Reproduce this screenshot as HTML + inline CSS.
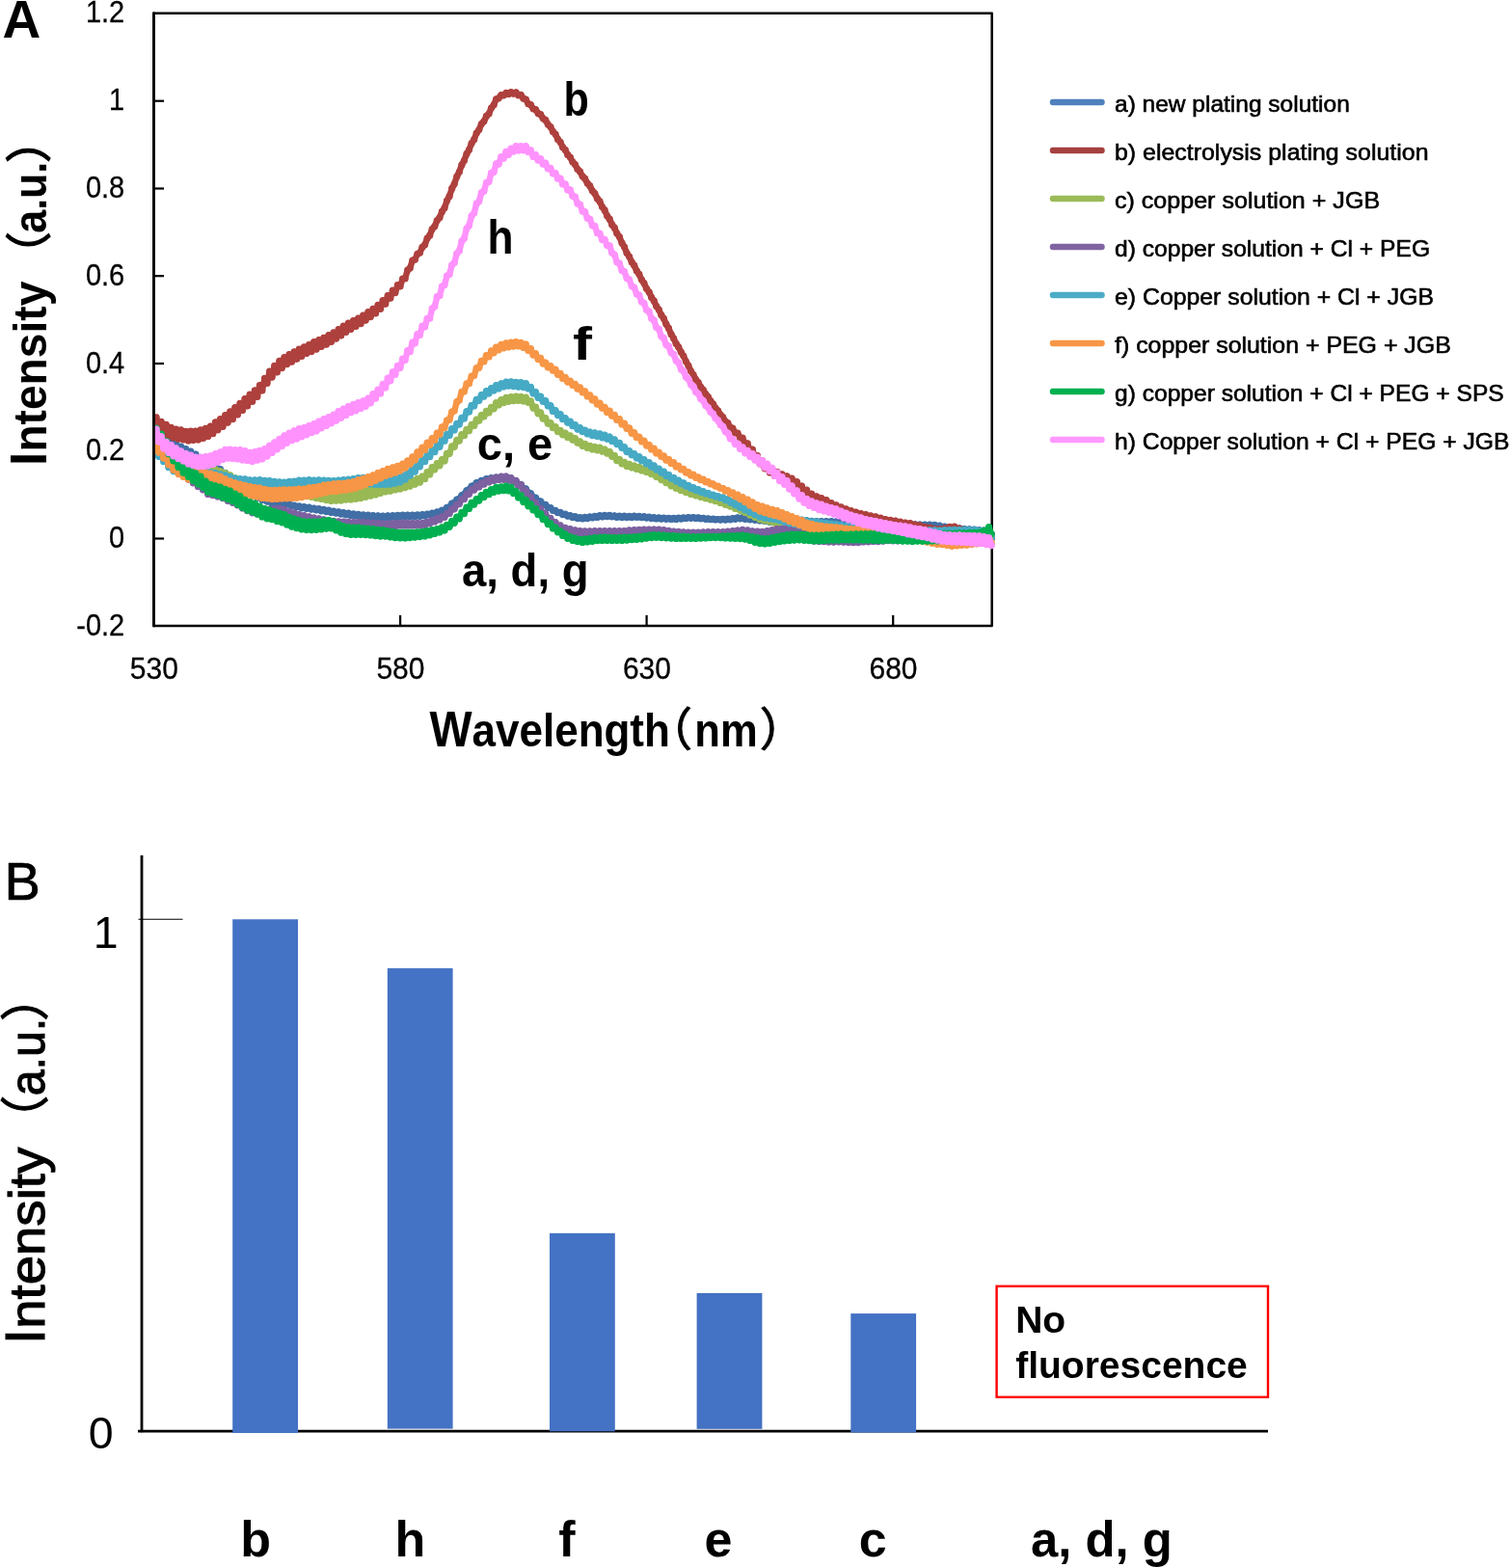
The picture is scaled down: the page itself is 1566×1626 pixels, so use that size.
<!DOCTYPE html>
<html lang="en"><head><meta charset="utf-8"><title>Fluorescence spectra</title>
<style>
html,body{margin:0;padding:0;background:#fff;}
body{width:1566px;height:1626px;overflow:hidden;}
svg{display:block;}
text{font-family:"Liberation Sans",sans-serif;fill:#000;}
.b{font-weight:bold;}
.jp{font-family:"Liberation Sans","Noto Sans CJK JP","IPAGothic","WenQuanYi Zen Hei",sans-serif;}
</style></head>
<body>
<svg width="1566" height="1626" viewBox="0 0 1566 1626">
<rect x="0" y="0" width="1566" height="1626" fill="#fff"/>
<!-- Panel A: plot frame -->
<rect x="159.5" y="13.7" width="869.2" height="635.3" fill="none" stroke="#000" stroke-width="2.5" stroke-linejoin="round"/>
<line x1="159.5" y1="104.7" x2="170.0" y2="104.7" stroke="#000" stroke-width="2.2"/>
<line x1="159.5" y1="195.5" x2="170.0" y2="195.5" stroke="#000" stroke-width="2.2"/>
<line x1="159.5" y1="286.2" x2="170.0" y2="286.2" stroke="#000" stroke-width="2.2"/>
<line x1="159.5" y1="377.0" x2="170.0" y2="377.0" stroke="#000" stroke-width="2.2"/>
<line x1="159.5" y1="467.7" x2="170.0" y2="467.7" stroke="#000" stroke-width="2.2"/>
<line x1="159.5" y1="558.5" x2="170.0" y2="558.5" stroke="#000" stroke-width="2.2"/>
<text x="88.9" y="23.4" font-size="32" stroke="#000" stroke-width="0.3" textLength="40.3" lengthAdjust="spacingAndGlyphs">1.2</text>
<text x="113.1" y="114.2" font-size="32" stroke="#000" stroke-width="0.3" textLength="16.1" lengthAdjust="spacingAndGlyphs">1</text>
<text x="88.9" y="205.0" font-size="32" stroke="#000" stroke-width="0.3" textLength="40.3" lengthAdjust="spacingAndGlyphs">0.8</text>
<text x="88.9" y="295.7" font-size="32" stroke="#000" stroke-width="0.3" textLength="40.3" lengthAdjust="spacingAndGlyphs">0.6</text>
<text x="88.9" y="386.5" font-size="32" stroke="#000" stroke-width="0.3" textLength="40.3" lengthAdjust="spacingAndGlyphs">0.4</text>
<text x="88.9" y="477.2" font-size="32" stroke="#000" stroke-width="0.3" textLength="40.3" lengthAdjust="spacingAndGlyphs">0.2</text>
<text x="113.1" y="568.0" font-size="32" stroke="#000" stroke-width="0.3" textLength="16.1" lengthAdjust="spacingAndGlyphs">0</text>
<text x="79.3" y="658.8" font-size="32" stroke="#000" stroke-width="0.3" textLength="49.9" lengthAdjust="spacingAndGlyphs">-0.2</text>
<line x1="415.1" y1="649.0" x2="415.1" y2="638.0" stroke="#000" stroke-width="2.2"/>
<line x1="670.6" y1="649.0" x2="670.6" y2="638.0" stroke="#000" stroke-width="2.2"/>
<line x1="926.2" y1="649.0" x2="926.2" y2="638.0" stroke="#000" stroke-width="2.2"/>
<text x="134.8" y="703.5" font-size="32" stroke="#000" stroke-width="0.3" textLength="50" lengthAdjust="spacingAndGlyphs">530</text>
<text x="390.4" y="703.5" font-size="32" stroke="#000" stroke-width="0.3" textLength="50" lengthAdjust="spacingAndGlyphs">580</text>
<text x="645.9" y="703.5" font-size="32" stroke="#000" stroke-width="0.3" textLength="50" lengthAdjust="spacingAndGlyphs">630</text>
<text x="901.5" y="703.5" font-size="32" stroke="#000" stroke-width="0.3" textLength="50" lengthAdjust="spacingAndGlyphs">680</text>
<!-- Panel A: spectra -->
<clipPath id="pc"><rect x="160.6" y="0" width="900" height="700"/></clipPath>
<defs>
<marker id="ma" markerUnits="userSpaceOnUse" markerWidth="10" markerHeight="10" refX="5" refY="5"><circle cx="5" cy="5" r="3.6" fill="#416FA6"/></marker>
<marker id="mb" markerUnits="userSpaceOnUse" markerWidth="10" markerHeight="10" refX="5" refY="5"><circle cx="5" cy="5" r="3.6" fill="#AE403D"/></marker>
<marker id="mc" markerUnits="userSpaceOnUse" markerWidth="10" markerHeight="10" refX="5" refY="5"><circle cx="5" cy="5" r="3.6" fill="#98B954"/></marker>
<marker id="md" markerUnits="userSpaceOnUse" markerWidth="10" markerHeight="10" refX="5" refY="5"><circle cx="5" cy="5" r="3.6" fill="#7D60A0"/></marker>
<marker id="me" markerUnits="userSpaceOnUse" markerWidth="10" markerHeight="10" refX="5" refY="5"><circle cx="5" cy="5" r="3.6" fill="#46AAC5"/></marker>
<marker id="mf" markerUnits="userSpaceOnUse" markerWidth="10" markerHeight="10" refX="5" refY="5"><circle cx="5" cy="5" r="3.6" fill="#F79646"/></marker>
<marker id="mg" markerUnits="userSpaceOnUse" markerWidth="10" markerHeight="10" refX="5" refY="5"><circle cx="5" cy="5" r="3.6" fill="#00B050"/></marker>
<marker id="mh" markerUnits="userSpaceOnUse" markerWidth="10" markerHeight="10" refX="5" refY="5"><circle cx="5" cy="5" r="3.6" fill="#FF92FD"/></marker>
</defs>
<g fill="none" stroke-width="6.4" stroke-linejoin="round" stroke-linecap="round" clip-path="url(#pc)">
<path stroke="#416FA6" marker-start="url(#ma)" marker-mid="url(#ma)" marker-end="url(#ma)" d="M159.5,445.0 162.1,439.8 164.6,453.5 167.2,448.5 169.7,461.3 172.3,454.1 174.8,465.8 177.4,457.5 179.9,468.8 182.5,460.7 185.1,471.5 187.6,463.1 190.2,473.8 192.7,465.5 195.3,476.4 197.8,468.1 200.4,479.3 202.9,471.0 205.5,482.3 208.0,474.4 210.6,485.9 213.2,477.4 215.7,488.6 218.3,480.8 220.8,491.7 223.4,483.2 225.9,494.5 228.5,486.6 231.0,497.6 233.6,490.3 236.2,501.3 238.7,493.8 241.3,504.4 243.8,497.3 246.4,507.1 248.9,500.8 251.5,509.5 254.0,504.2 256.6,511.9 259.1,507.4 261.7,514.1 264.3,510.4 266.8,516.1 269.4,513.5 271.9,518.3 274.5,516.8 277.0,520.1 279.6,519.7 282.1,522.1 284.7,520.9 287.3,522.3 289.8,520.9 292.4,522.3 294.9,520.9 297.5,523.1 300.0,522.6 302.6,525.0 305.1,524.0 307.7,526.0 310.2,524.9 312.8,526.8 315.4,525.5 317.9,527.5 320.5,526.2 323.0,528.2 325.6,527.0 328.1,529.0 330.7,527.7 333.2,529.8 335.8,528.4 338.4,530.6 340.9,529.2 343.5,531.4 346.0,530.0 348.6,532.2 351.1,530.8 353.7,533.1 356.2,531.6 358.8,533.8 361.3,532.2 363.9,534.4 366.5,532.9 369.0,534.9 371.6,533.4 374.1,535.5 376.7,533.9 379.2,535.8 381.8,534.2 384.3,536.2 386.9,534.5 389.5,536.6 392.0,534.8 394.6,536.8 397.1,535.0 399.7,536.9 402.2,534.9 404.8,536.7 407.3,534.7 409.9,536.3 412.4,534.3 415.0,536.0 417.6,534.2 420.1,535.8 422.7,534.1 425.2,535.7 427.8,534.0 430.3,535.6 432.9,533.9 435.4,535.5 438.0,533.6 440.6,535.1 443.1,533.0 445.7,534.2 448.2,532.1 450.8,533.2 453.3,530.9 455.9,531.6 458.4,529.2 461.0,529.6 463.5,526.3 466.1,525.8 468.7,522.2 471.2,521.6 473.8,518.0 476.3,517.3 478.9,513.7 481.4,512.6 484.0,508.6 486.5,507.6 489.1,504.2 491.7,503.7 494.2,500.7 496.8,500.7 499.3,498.3 501.9,498.8 504.4,496.6 507.0,497.6 509.5,495.6 512.1,496.8 514.6,495.0 517.2,496.5 519.8,495.0 522.3,496.9 524.9,495.6 527.4,497.7 530.0,496.7 532.5,499.6 535.1,499.0 537.6,502.2 540.2,502.3 542.8,506.5 545.3,506.8 547.9,510.9 550.4,511.6 553.0,515.6 555.5,516.1 558.1,519.6 560.6,519.9 563.2,523.1 565.7,523.3 568.3,526.4 570.9,526.6 573.4,529.3 576.0,529.3 578.5,531.7 581.1,531.4 583.6,533.6 586.2,533.1 588.7,535.2 591.3,534.6 593.9,536.6 596.4,535.7 599.0,537.6 601.5,536.6 604.1,538.0 606.6,536.4 609.2,537.6 611.7,535.9 614.3,537.0 616.8,535.3 619.4,536.4 622.0,534.7 624.5,536.0 627.1,534.4 629.6,535.7 632.2,534.3 634.7,535.8 637.3,534.8 639.8,536.5 642.4,535.2 645.0,536.6 647.5,535.2 650.1,536.6 652.6,535.3 655.2,536.6 657.7,535.2 660.3,536.5 662.8,535.3 665.4,536.7 667.9,535.6 670.5,537.1 673.1,536.2 675.6,537.6 678.2,536.6 680.7,537.9 683.3,536.9 685.8,538.2 688.4,537.1 690.9,538.3 693.5,537.3 696.1,538.4 698.6,537.4 701.2,538.4 703.7,537.2 706.3,538.1 708.8,536.9 711.4,537.6 713.9,536.5 716.5,537.3 719.0,536.5 721.6,537.4 724.2,536.8 726.7,537.8 729.3,537.3 731.8,538.3 734.4,537.9 736.9,538.7 739.5,538.2 742.0,538.9 744.6,538.5 747.2,539.1 749.7,538.4 752.3,539.1 754.8,538.1 757.4,538.8 759.9,537.5 762.5,538.3 765.0,536.8 767.6,538.0 770.1,536.5 772.7,538.3 775.3,536.6 777.8,538.8 780.4,536.9 782.9,539.3 785.5,537.3 788.0,540.0 790.6,537.8 793.1,540.5 795.7,538.3 798.3,541.3 800.8,539.0 803.4,541.8 805.9,539.5 808.5,542.0 811.0,539.3 813.6,542.0 816.1,539.4 818.7,541.9 821.2,539.3 823.8,541.7 826.4,539.2 828.9,541.9 831.5,539.3 834.0,542.2 836.6,539.8 839.1,542.8 841.7,540.3 844.2,543.0 846.8,540.5 849.4,543.2 851.9,540.6 854.5,543.2 857.0,540.7 859.6,543.3 862.1,540.6 864.7,543.2 867.2,540.8 869.8,543.5 872.3,540.9 874.9,543.8 877.5,541.3 880.0,544.0 882.6,541.7 885.1,544.5 887.7,541.8 890.2,544.7 892.8,542.0 895.3,545.1 897.9,542.3 900.5,545.3 903.0,542.5 905.6,545.6 908.1,542.9 910.7,545.9 913.2,543.1 915.8,546.1 918.3,543.4 920.9,546.5 923.4,543.6 926.0,546.7 928.6,543.7 931.1,546.8 933.7,543.7 936.2,547.1 938.8,543.9 941.3,547.2 943.9,543.9 946.4,547.2 949.0,543.9 951.6,547.3 954.1,544.0 956.7,547.3 959.2,544.1 961.8,547.5 964.3,544.1 966.9,547.5 969.4,544.4 972.0,547.8 974.5,545.2 977.1,549.1 979.7,546.2 982.2,550.0 984.8,547.0 987.3,550.5 989.9,547.5 992.4,551.2 995.0,547.9 997.5,551.4 1000.1,548.5 1002.7,552.0 1005.2,548.8 1007.8,552.5 1010.3,549.2 1012.9,552.9 1015.4,549.6 1018.0,553.1 1020.5,550.0 1023.1,553.5 1025.6,550.1 1028.2,553.7"/>
<path stroke="#AE403D" marker-start="url(#mb)" marker-mid="url(#mb)" marker-end="url(#mb)" d="M159.5,439.1 162.1,432.8 164.6,445.0 167.2,437.4 169.7,448.4 172.3,440.3 174.8,451.7 177.4,443.3 179.9,454.0 182.5,445.2 185.1,455.2 187.6,445.9 190.2,456.0 192.7,447.3 195.3,456.9 197.8,447.2 200.4,456.5 202.9,447.0 205.5,455.9 208.0,445.9 210.6,454.5 213.2,444.4 215.7,452.4 218.3,442.0 220.8,449.7 223.4,437.9 225.9,445.8 228.5,434.5 231.0,442.5 233.6,430.5 236.2,438.1 238.7,426.9 241.3,434.7 243.8,422.6 246.4,430.0 248.9,418.4 251.5,425.5 254.0,413.5 256.6,421.0 259.1,409.2 261.7,416.3 264.3,404.9 266.8,411.5 269.4,399.5 271.9,405.0 274.5,392.4 277.0,397.5 279.6,385.1 282.1,391.1 284.7,379.3 287.3,386.0 289.8,374.3 292.4,381.6 294.9,370.7 297.5,377.7 300.0,367.5 302.6,375.1 305.1,364.9 307.7,372.2 310.2,362.2 312.8,369.4 315.4,359.9 317.9,366.5 320.5,357.5 323.0,364.6 325.6,354.7 328.1,362.1 330.7,352.5 333.2,359.5 335.8,350.3 338.4,357.2 340.9,347.6 343.5,354.4 346.0,344.9 348.6,351.1 351.1,341.5 353.7,348.0 356.2,338.2 358.8,344.3 361.3,335.2 363.9,341.3 366.5,332.6 369.0,338.4 371.6,330.1 374.1,335.7 376.7,327.0 379.2,332.1 381.8,323.7 384.3,328.6 386.9,320.4 389.5,325.0 392.0,316.4 394.6,320.3 397.1,311.7 399.7,315.2 402.2,306.5 404.8,309.2 407.3,301.2 409.9,303.6 412.4,295.6 415.0,297.0 417.6,289.1 420.1,288.9 422.7,280.1 425.2,278.1 427.8,270.1 430.3,269.2 432.9,263.3 435.4,262.2 438.0,256.3 440.6,253.8 443.1,247.1 445.7,244.2 448.2,237.6 450.8,234.7 453.3,228.5 455.9,225.7 458.4,219.4 461.0,215.7 463.5,208.1 466.1,203.4 468.7,195.4 471.2,190.8 473.8,183.0 476.3,178.3 478.9,170.9 481.4,166.5 484.0,159.4 486.5,155.3 489.1,148.5 491.7,144.7 494.2,138.0 496.8,134.5 499.3,128.6 501.9,125.8 504.4,120.4 507.0,118.0 509.5,112.0 512.1,108.8 514.6,102.8 517.2,101.8 519.8,98.5 522.3,99.0 524.9,96.4 527.4,97.6 530.0,95.6 532.5,97.2 535.1,95.9 537.6,98.8 540.2,98.4 542.8,102.2 545.3,103.0 547.9,107.7 550.4,108.7 553.0,112.8 555.5,113.6 558.1,117.6 560.6,118.7 563.2,122.8 565.7,124.4 568.3,129.1 570.9,131.5 573.4,136.4 576.0,139.1 578.5,144.4 581.1,147.3 583.6,152.7 586.2,155.4 588.7,160.4 591.3,163.1 593.9,168.0 596.4,170.5 599.0,175.5 601.5,177.9 604.1,182.8 606.6,185.2 609.2,190.1 611.7,192.7 614.3,197.8 616.8,200.5 619.4,205.9 622.0,208.9 624.5,214.5 627.1,217.9 629.6,223.8 632.2,227.2 634.7,232.9 637.3,236.2 639.8,242.0 642.4,245.6 645.0,252.0 647.5,256.1 650.1,262.5 652.6,266.1 655.2,271.9 657.7,275.2 660.3,280.9 662.8,284.3 665.4,290.1 667.9,293.6 670.5,299.3 673.1,302.8 675.6,308.4 678.2,311.9 680.7,317.6 683.3,321.1 685.8,326.7 688.4,330.3 690.9,336.2 693.5,340.4 696.1,346.7 698.6,350.8 701.2,356.4 703.7,359.9 706.3,365.2 708.8,369.0 711.4,374.8 713.9,379.1 716.5,384.8 719.0,388.6 721.6,393.5 724.2,396.7 726.7,401.3 729.3,404.3 731.8,408.7 734.4,411.5 736.9,415.9 739.5,418.8 742.0,423.2 744.6,425.9 747.2,430.2 749.7,432.6 752.3,437.0 754.8,438.7 757.4,443.4 759.9,444.2 762.5,449.0 765.0,449.1 767.6,454.3 770.1,454.1 772.7,460.4 775.3,459.9 777.8,467.4 780.4,466.1 782.9,474.5 785.5,472.6 788.0,480.8 790.6,477.8 793.1,485.8 795.7,482.4 798.3,489.9 800.8,486.4 803.4,493.4 805.9,489.4 808.5,496.1 811.0,491.8 813.6,498.4 816.1,493.9 818.7,500.6 821.2,496.2 823.8,503.4 826.4,499.6 828.9,507.1 831.5,504.0 834.0,511.8 836.6,508.2 839.1,516.0 841.7,512.0 844.2,519.3 846.8,514.8 849.4,521.1 851.9,516.5 854.5,522.8 857.0,518.6 859.6,525.8 862.1,521.5 864.7,528.8 867.2,523.9 869.8,531.2 872.3,525.9 874.9,533.1 877.5,527.9 880.0,534.5 882.6,529.7 885.1,536.2 887.7,531.2 890.2,537.9 892.8,532.5 895.3,539.2 897.9,533.6 900.5,540.4 903.0,534.9 905.6,541.9 908.1,535.8 910.7,543.0 913.2,537.2 915.8,544.5 918.3,538.5 920.9,545.6 923.4,539.4 926.0,546.8 928.6,540.1 931.1,547.5 933.7,541.2 936.2,548.5 938.8,542.0 941.3,549.7 943.9,542.6 946.4,550.6 949.0,544.0 951.6,551.8 954.1,544.8 956.7,552.9 959.2,546.3 961.8,553.7 964.3,547.2 966.9,555.4 969.4,548.4 972.0,556.2 974.5,548.7 977.1,555.6 979.7,547.9 982.2,554.4 984.8,546.4 987.3,553.6 989.9,546.0 992.4,554.5 995.0,548.2 997.5,557.0 1000.1,550.2 1002.7,557.9 1005.2,551.0 1007.8,558.4 1010.3,551.3 1012.9,558.9 1015.4,551.4 1018.0,559.0 1020.5,551.3 1023.1,558.9 1025.6,551.3 1028.2,558.5"/>
<path stroke="#98B954" marker-start="url(#mc)" marker-mid="url(#mc)" marker-end="url(#mc)" d="M159.5,464.5 162.1,458.1 164.6,470.6 167.2,463.7 169.7,475.6 172.3,468.3 174.8,480.2 177.4,472.3 179.9,483.9 182.5,476.0 185.1,486.6 187.6,479.1 190.2,490.0 192.7,481.6 195.3,492.3 197.8,482.9 200.4,493.5 202.9,484.4 205.5,493.9 208.0,484.5 210.6,494.7 213.2,485.5 215.7,495.1 218.3,486.3 220.8,496.1 223.4,486.9 225.9,496.8 228.5,488.7 231.0,498.8 233.6,490.6 236.2,501.3 238.7,492.8 241.3,504.2 243.8,495.7 246.4,505.6 248.9,497.5 251.5,507.8 254.0,499.1 256.6,508.8 259.1,500.2 261.7,510.4 264.3,501.5 266.8,510.6 269.4,502.0 271.9,511.2 274.5,502.3 277.0,511.7 279.6,502.2 282.1,511.8 284.7,502.8 287.3,512.2 289.8,503.4 292.4,512.4 294.9,503.3 297.5,513.1 300.0,504.1 302.6,513.2 305.1,504.6 307.7,513.5 310.2,505.0 312.8,514.0 315.4,505.9 317.9,514.3 320.5,506.5 323.0,515.3 325.6,507.9 328.1,516.7 330.7,509.1 333.2,517.5 335.8,510.0 338.4,518.6 340.9,511.5 343.5,519.4 346.0,511.0 348.6,519.1 351.1,511.0 353.7,518.9 356.2,510.9 358.8,518.1 361.3,510.8 363.9,517.9 366.5,510.2 369.0,517.3 371.6,510.1 374.1,516.6 376.7,508.9 379.2,515.3 381.8,508.0 384.3,514.2 386.9,507.0 389.5,512.9 392.0,505.8 394.6,511.3 397.1,504.7 399.7,510.0 402.2,503.3 404.8,509.2 407.3,502.5 409.9,508.0 412.4,501.8 415.0,507.0 417.6,500.9 420.1,505.6 422.7,499.5 425.2,504.1 427.8,498.2 430.3,502.2 432.9,496.3 435.4,500.2 438.0,494.0 440.6,496.7 443.1,489.7 445.7,491.9 448.2,484.6 450.8,486.8 453.3,480.5 455.9,482.8 458.4,476.5 461.0,477.9 463.5,470.3 466.1,470.5 468.7,462.8 471.2,463.3 473.8,456.4 476.3,457.1 478.9,450.6 481.4,451.7 484.0,445.3 486.5,446.6 489.1,440.4 491.7,441.5 494.2,435.1 496.8,436.2 499.3,430.5 501.9,432.0 504.4,426.4 507.0,428.0 509.5,422.3 512.1,423.8 514.6,417.7 517.2,420.0 519.8,414.6 522.3,417.7 524.9,412.4 527.4,416.3 530.0,411.5 532.5,415.7 535.1,411.2 537.6,415.5 540.2,411.3 542.8,415.9 545.3,412.2 547.9,417.3 550.4,415.8 553.0,423.1 555.5,422.2 558.1,428.8 560.6,427.9 563.2,434.2 565.7,433.5 568.3,439.2 570.9,438.5 573.4,443.7 576.0,442.6 578.5,447.6 581.1,446.4 583.6,450.8 586.2,449.2 588.7,453.6 591.3,451.9 593.9,456.2 596.4,454.5 599.0,459.2 601.5,457.8 604.1,462.3 606.6,460.3 609.2,464.5 611.7,462.3 614.3,465.9 616.8,463.4 619.4,466.8 622.0,464.2 624.5,468.1 627.1,466.0 629.6,470.1 632.2,468.4 634.7,473.3 637.3,472.4 639.8,477.7 642.4,476.4 645.0,481.0 647.5,479.3 650.1,483.4 652.6,481.4 655.2,485.0 657.7,483.0 660.3,486.5 662.8,484.4 665.4,487.9 667.9,485.8 670.5,489.4 673.1,487.8 675.6,491.7 678.2,490.5 680.7,494.5 683.3,493.4 685.8,497.6 688.4,496.7 690.9,500.7 693.5,499.9 696.1,504.0 698.6,502.9 701.2,506.5 703.7,505.4 706.3,508.7 708.8,507.6 711.4,510.6 713.9,509.5 716.5,512.4 719.0,511.4 721.6,514.0 724.2,513.0 726.7,515.5 729.3,514.6 731.8,516.8 734.4,516.1 736.9,518.2 739.5,517.7 742.0,519.7 744.6,519.3 747.2,521.4 749.7,520.7 752.3,523.3 754.8,522.1 757.4,525.2 759.9,523.8 762.5,527.4 765.0,525.3 767.6,529.3 770.1,526.8 772.7,531.6 775.3,528.7 777.8,534.2 780.4,530.8 782.9,536.3 785.5,532.5 788.0,538.7 790.6,533.7 793.1,540.0 795.7,534.7 798.3,541.0 800.8,536.0 803.4,542.1 805.9,536.6 808.5,542.9 811.0,537.7 813.6,543.7 816.1,538.2 818.7,544.3 821.2,539.1 823.8,545.1 826.4,539.6 828.9,545.8 831.5,541.0 834.0,547.3 836.6,542.2 839.1,548.5 841.7,543.2 844.2,549.6 846.8,544.1 849.4,550.3 851.9,544.8 854.5,551.1 857.0,545.6 859.6,551.5 862.1,546.1 864.7,552.2 867.2,546.5 869.8,552.6 872.3,547.1 874.9,553.2 877.5,547.3 880.0,553.8 882.6,547.9 885.1,554.3 887.7,548.2 890.2,554.3 892.8,548.7 895.3,554.9 897.9,548.6 900.5,555.4 903.0,548.9 905.6,555.9 908.1,549.2 910.7,556.0 913.2,549.7 915.8,556.6 918.3,549.7 920.9,557.0 923.4,549.9 926.0,557.2 928.6,550.3 931.1,557.1 933.7,550.3 936.2,557.2 938.8,550.2 941.3,557.8 943.9,550.2 946.4,557.5 949.0,550.3 951.6,557.6 954.1,550.7 956.7,557.9 959.2,550.4 961.8,558.1 964.3,550.8 966.9,557.9 969.4,550.6 972.0,557.8 974.5,550.6 977.1,558.1 979.7,550.7 982.2,558.4 984.8,550.8 987.3,558.5 989.9,550.7 992.4,558.2 995.0,551.0 997.5,558.4 1000.1,550.9 1002.7,558.1 1005.2,550.8 1007.8,558.1 1010.3,550.8 1012.9,558.2 1015.4,550.8 1018.0,557.8 1020.5,550.4 1023.1,557.6 1025.6,550.5 1028.2,557.9"/>
<path stroke="#7D60A0" marker-start="url(#md)" marker-mid="url(#md)" marker-end="url(#md)" d="M159.5,456.6 162.1,450.2 164.6,462.0 167.2,455.5 169.7,468.6 172.3,462.7 174.8,475.3 177.4,469.5 179.9,482.4 182.5,475.8 185.1,487.9 187.6,480.9 190.2,492.9 192.7,485.3 195.3,497.1 197.8,490.0 200.4,500.8 202.9,493.6 205.5,504.7 208.0,496.6 210.6,508.0 213.2,501.2 215.7,512.4 218.3,503.8 220.8,513.7 223.4,505.1 225.9,514.9 228.5,506.9 231.0,516.6 233.6,509.0 236.2,519.3 238.7,511.0 241.3,521.3 243.8,513.7 246.4,524.0 248.9,517.2 251.5,526.9 254.0,520.7 256.6,529.7 259.1,523.4 261.7,531.8 264.3,525.5 266.8,532.8 269.4,527.5 271.9,533.6 274.5,528.0 277.0,533.5 279.6,528.0 282.1,532.1 284.7,527.5 287.3,531.0 289.8,527.4 292.4,531.6 294.9,528.7 297.5,533.2 300.0,530.6 302.6,535.0 305.1,532.0 307.7,536.3 310.2,533.5 312.8,537.6 315.4,534.7 317.9,538.7 320.5,535.8 323.0,540.0 325.6,537.0 328.1,540.8 330.7,537.9 333.2,541.8 335.8,538.9 338.4,542.9 340.9,539.6 343.5,543.4 346.0,540.3 348.6,543.8 351.1,540.8 353.7,544.2 356.2,541.1 358.8,544.4 361.3,541.3 363.9,544.9 366.5,541.6 369.0,544.9 371.6,541.6 374.1,544.9 376.7,541.7 379.2,545.1 381.8,542.0 384.3,545.2 386.9,542.3 389.5,545.7 392.0,542.7 394.6,545.9 397.1,543.1 399.7,546.0 402.2,543.0 404.8,545.8 407.3,542.8 409.9,545.4 412.4,542.4 415.0,544.9 417.6,542.2 420.1,544.9 422.7,542.3 425.2,544.9 427.8,542.4 430.3,544.8 432.9,542.4 435.4,544.8 438.0,542.4 440.6,544.4 443.1,541.4 445.7,542.8 448.2,539.5 450.8,540.9 453.3,537.6 455.9,538.9 458.4,535.5 461.0,536.3 463.5,532.3 466.1,532.4 468.7,527.9 471.2,527.8 473.8,523.0 476.3,522.6 478.9,517.7 481.4,517.4 484.0,512.3 486.5,512.3 489.1,507.7 491.7,508.1 494.2,504.1 496.8,504.9 499.3,501.1 501.9,502.2 504.4,498.5 507.0,500.0 509.5,496.5 512.1,498.5 514.6,495.0 517.2,497.4 519.8,494.1 522.3,497.2 524.9,494.0 527.4,498.1 530.0,495.7 532.5,500.2 535.1,498.4 537.6,503.9 540.2,502.6 542.8,509.1 545.3,508.7 547.9,515.4 550.4,515.1 553.0,521.6 555.5,521.3 558.1,527.6 560.6,527.4 563.2,533.0 565.7,532.6 568.3,537.8 570.9,537.4 573.4,542.4 576.0,541.6 578.5,546.1 581.1,544.9 583.6,549.0 586.2,547.3 588.7,551.1 591.3,548.7 593.9,552.3 596.4,549.9 599.0,553.5 601.5,550.5 604.1,553.8 606.6,550.8 609.2,553.7 611.7,550.8 614.3,553.8 616.8,550.6 619.4,553.7 622.0,550.6 624.5,553.6 627.1,550.6 629.6,553.7 632.2,550.7 634.7,553.8 637.3,550.6 639.8,553.8 642.4,550.6 645.0,553.6 647.5,550.5 650.1,553.2 652.6,549.9 655.2,552.6 657.7,549.5 660.3,552.1 662.8,549.3 665.4,551.9 667.9,549.1 670.5,551.8 673.1,549.1 675.6,551.7 678.2,549.0 680.7,551.7 683.3,549.1 685.8,551.8 688.4,549.7 690.9,552.5 693.5,550.4 696.1,553.2 698.6,551.0 701.2,553.5 703.7,551.3 706.3,553.8 708.8,551.8 711.4,554.1 713.9,552.1 716.5,554.2 719.0,552.2 721.6,554.0 724.2,552.2 726.7,553.6 729.3,551.8 731.8,553.1 734.4,551.5 736.9,552.8 739.5,551.5 742.0,552.8 744.6,551.6 747.2,552.9 749.7,551.5 752.3,553.1 754.8,551.0 757.4,553.1 759.9,550.5 762.5,553.1 765.0,550.0 767.6,553.1 770.1,549.4 772.7,553.5 775.3,549.8 777.8,554.6 780.4,550.8 782.9,555.9 785.5,551.2 788.0,556.6 790.6,551.4 793.1,556.3 795.7,550.5 798.3,555.8 800.8,549.6 803.4,554.5 805.9,548.5 808.5,554.2 811.0,548.3 813.6,553.3 816.1,547.6 818.7,553.1 821.2,547.7 823.8,553.6 826.4,548.6 828.9,555.6 831.5,551.2 834.0,558.3 836.6,553.3 839.1,559.9 841.7,554.9 844.2,561.1 846.8,555.5 849.4,561.4 851.9,555.9 854.5,561.6 857.0,555.8 859.6,561.9 862.1,556.2 864.7,562.1 867.2,556.1 869.8,562.0 872.3,556.3 874.9,562.2 877.5,556.6 880.0,562.5 882.6,556.4 885.1,562.7 887.7,556.4 890.2,562.6 892.8,556.0 895.3,561.9 897.9,555.9 900.5,561.8 903.0,555.3 905.6,561.4 908.1,555.0 910.7,561.6 913.2,554.5 915.8,561.2 918.3,554.4 920.9,560.7 923.4,554.0 926.0,560.8 928.6,553.7 931.1,561.0 933.7,553.7 936.2,560.5 938.8,553.4 941.3,560.3 943.9,553.5 946.4,560.6 949.0,552.7 951.6,560.0 954.1,552.7 956.7,560.1 959.2,552.2 961.8,559.7 964.3,551.7 966.9,558.9 969.4,551.5 972.0,559.1 974.5,551.3 977.1,558.8 979.7,551.3 982.2,558.6 984.8,551.2 987.3,558.5 989.9,551.1 992.4,558.7 995.0,551.6 997.5,558.7 1000.1,551.4 1002.7,558.5 1005.2,551.2 1007.8,558.7 1010.3,551.0 1012.9,558.5 1015.4,551.3 1018.0,558.5 1020.5,551.0 1023.1,558.8 1025.6,551.1 1028.2,558.6"/>
<path stroke="#46AAC5" marker-start="url(#me)" marker-mid="url(#me)" marker-end="url(#me)" d="M159.5,468.5 162.1,461.3 164.6,473.3 167.2,467.0 169.7,478.7 172.3,471.9 174.8,484.6 177.4,477.4 179.9,488.6 182.5,480.2 185.1,490.9 187.6,482.9 190.2,493.6 192.7,484.6 195.3,494.8 197.8,486.3 200.4,496.1 202.9,487.4 205.5,497.3 208.0,487.9 210.6,497.8 213.2,488.8 215.7,498.6 218.3,489.9 220.8,499.9 223.4,490.6 225.9,500.4 228.5,491.9 231.0,502.1 233.6,492.9 236.2,503.5 238.7,494.3 241.3,504.6 243.8,496.1 246.4,505.9 248.9,496.7 251.5,506.4 254.0,496.8 256.6,506.4 259.1,497.8 261.7,506.8 264.3,497.8 266.8,507.2 269.4,497.7 271.9,507.5 274.5,498.4 277.0,507.6 279.6,498.5 282.1,507.9 284.7,499.3 287.3,508.5 289.8,499.8 292.4,509.6 294.9,500.1 297.5,508.9 300.0,499.4 302.6,508.1 305.1,499.2 307.7,507.5 310.2,498.1 312.8,506.6 315.4,498.1 317.9,506.2 320.5,497.7 323.0,506.4 325.6,498.1 328.1,506.1 330.7,497.9 333.2,506.6 335.8,498.0 338.4,506.7 340.9,498.4 343.5,506.3 346.0,498.6 348.6,506.0 351.1,498.0 353.7,505.6 356.2,497.7 358.8,504.9 361.3,497.2 363.9,504.4 366.5,496.5 369.0,503.6 371.6,495.5 374.1,502.4 376.7,495.3 379.2,501.9 381.8,495.4 384.3,502.0 386.9,495.7 389.5,502.4 392.0,496.0 394.6,502.4 397.1,496.4 399.7,502.5 402.2,496.5 404.8,502.2 407.3,495.8 409.9,501.2 412.4,495.0 415.0,500.0 417.6,493.1 420.1,497.2 422.7,490.0 425.2,493.2 427.8,485.9 430.3,489.1 432.9,481.4 435.4,483.8 438.0,476.6 440.6,478.7 443.1,471.5 445.7,473.7 448.2,466.6 450.8,468.7 453.3,461.6 455.9,463.3 458.4,455.9 461.0,457.2 463.5,450.4 466.1,451.4 468.7,444.7 471.2,445.9 473.8,439.3 476.3,440.1 478.9,433.4 481.4,433.9 484.0,426.6 486.5,426.9 489.1,420.4 491.7,420.9 494.2,414.3 496.8,415.3 499.3,409.5 501.9,411.1 504.4,405.7 507.0,408.0 509.5,402.6 512.1,405.0 514.6,399.7 517.2,403.0 519.8,397.8 522.3,401.0 524.9,396.0 527.4,400.2 530.0,395.9 532.5,400.6 535.1,396.3 537.6,401.1 540.2,396.6 542.8,401.6 545.3,397.5 547.9,402.9 550.4,401.3 553.0,408.0 555.5,406.7 558.1,412.5 560.6,411.0 563.2,416.5 565.7,415.5 568.3,421.0 570.9,420.7 573.4,426.4 576.0,425.5 578.5,430.6 581.1,429.6 583.6,434.7 586.2,433.6 588.7,438.2 591.3,437.1 593.9,441.7 596.4,440.5 599.0,445.1 601.5,443.6 604.1,447.7 606.6,446.0 609.2,450.0 611.7,448.0 614.3,451.6 616.8,448.9 619.4,452.5 622.0,449.8 624.5,453.8 627.1,451.2 629.6,455.2 632.2,453.0 634.7,457.4 637.3,455.9 639.8,460.6 642.4,459.3 645.0,464.5 647.5,463.7 650.1,468.6 652.6,467.6 655.2,471.8 657.7,470.5 660.3,474.9 662.8,473.5 665.4,477.8 667.9,476.6 670.5,480.9 673.1,479.7 675.6,484.1 678.2,482.8 680.7,486.9 683.3,486.1 685.8,490.1 688.4,489.1 690.9,493.4 693.5,492.3 696.1,496.2 698.6,495.3 701.2,499.1 703.7,498.0 706.3,501.7 708.8,500.8 711.4,504.2 713.9,503.4 716.5,506.5 719.0,505.6 721.6,508.4 724.2,507.7 726.7,510.3 729.3,509.5 731.8,512.0 734.4,511.3 736.9,513.5 739.5,513.1 742.0,515.0 744.6,514.6 747.2,516.5 749.7,515.9 752.3,518.6 754.8,517.7 757.4,521.1 759.9,519.7 762.5,523.8 765.0,521.9 767.6,526.4 770.1,524.1 772.7,529.0 775.3,526.0 777.8,531.5 780.4,528.1 782.9,533.7 785.5,529.8 788.0,535.9 790.6,530.9 793.1,537.2 795.7,531.8 798.3,538.0 800.8,532.7 803.4,538.7 805.9,533.6 808.5,540.0 811.0,534.9 813.6,541.3 816.1,536.3 818.7,542.8 821.2,537.8 823.8,543.6 826.4,538.5 828.9,544.9 831.5,539.2 834.0,545.5 836.6,539.8 839.1,546.1 841.7,540.8 844.2,546.7 846.8,541.2 849.4,547.3 851.9,542.0 854.5,548.0 857.0,542.5 859.6,549.0 862.1,543.2 864.7,549.3 867.2,543.7 869.8,550.0 872.3,544.3 874.9,550.6 877.5,545.4 880.0,551.7 882.6,545.9 885.1,552.1 887.7,546.4 890.2,552.6 892.8,546.7 895.3,553.3 897.9,547.4 900.5,553.9 903.0,547.6 905.6,554.4 908.1,548.4 910.7,555.1 913.2,548.5 915.8,555.7 918.3,549.0 920.9,555.9 923.4,549.1 926.0,555.8 928.6,549.4 931.1,556.2 933.7,549.0 936.2,556.4 938.8,549.2 941.3,556.7 943.9,549.4 946.4,556.8 949.0,549.6 951.6,556.9 954.1,549.8 956.7,556.9 959.2,549.9 961.8,557.3 964.3,549.9 966.9,557.2 969.4,549.9 972.0,557.2 974.5,550.0 977.1,557.4 979.7,549.7 982.2,557.2 984.8,549.6 987.3,556.8 989.9,549.3 992.4,556.9 995.0,549.6 997.5,556.5 1000.1,549.5 1002.7,556.9 1005.2,549.7 1007.8,557.1 1010.3,549.7 1012.9,557.8 1015.4,550.2 1018.0,557.5 1020.5,550.4 1023.1,558.0 1025.6,550.5 1028.2,558.0"/>
<path stroke="#F79646" marker-start="url(#mf)" marker-mid="url(#mf)" marker-end="url(#mf)" d="M159.5,463.8 162.1,456.8 164.6,469.1 167.2,462.9 169.7,475.2 172.3,469.3 174.8,482.0 177.4,475.2 179.9,487.3 182.5,480.2 185.1,491.6 187.6,483.7 190.2,494.5 192.7,486.7 195.3,496.9 197.8,488.3 200.4,498.0 202.9,488.9 205.5,498.6 208.0,489.1 210.6,499.3 213.2,490.0 215.7,500.2 218.3,491.1 220.8,500.9 223.4,492.5 225.9,502.7 228.5,494.2 231.0,504.8 233.6,496.9 236.2,507.6 238.7,499.1 241.3,509.7 243.8,500.9 246.4,511.2 248.9,502.2 251.5,512.1 254.0,503.3 256.6,513.1 259.1,504.5 261.7,514.3 264.3,505.5 266.8,515.2 269.4,506.0 271.9,516.4 274.5,507.4 277.0,516.8 279.6,508.3 282.1,517.7 284.7,508.4 287.3,517.5 289.8,508.1 292.4,516.9 294.9,507.8 297.5,516.8 300.0,507.9 302.6,516.6 305.1,507.7 307.7,516.3 310.2,507.1 312.8,515.7 315.4,507.0 317.9,514.6 320.5,505.9 323.0,513.9 325.6,505.3 328.1,512.8 330.7,504.5 333.2,511.8 335.8,503.0 338.4,510.6 340.9,502.5 343.5,509.6 346.0,501.9 348.6,509.6 351.1,501.4 353.7,508.6 356.2,501.3 358.8,508.2 361.3,500.3 363.9,507.2 366.5,499.7 369.0,506.2 371.6,497.7 374.1,504.2 376.7,496.4 379.2,502.3 381.8,494.7 384.3,500.4 386.9,492.9 389.5,498.3 392.0,490.4 394.6,496.0 397.1,488.6 399.7,493.5 402.2,486.4 404.8,491.8 407.3,484.9 409.9,490.2 412.4,483.3 415.0,488.1 417.6,481.1 420.1,485.2 422.7,477.8 425.2,481.3 427.8,473.8 430.3,476.9 432.9,468.9 435.4,471.4 438.0,464.2 440.6,466.4 443.1,459.2 445.7,461.5 448.2,454.5 450.8,456.3 453.3,449.1 455.9,450.4 458.4,442.9 461.0,443.6 463.5,435.8 466.1,435.3 468.7,427.0 471.2,426.1 473.8,416.6 476.3,415.1 478.9,406.3 481.4,405.9 484.0,397.9 486.5,397.7 489.1,390.1 491.7,389.5 494.2,381.7 496.8,381.3 499.3,374.4 501.9,374.9 504.4,368.5 507.0,369.9 509.5,363.9 512.1,365.8 514.6,360.0 517.2,362.8 519.8,357.3 522.3,360.9 524.9,355.9 527.4,360.0 530.0,355.1 532.5,359.1 535.1,354.7 537.6,359.0 540.2,355.4 542.8,360.5 545.3,357.0 547.9,363.4 550.4,361.6 553.0,368.1 555.5,366.6 558.1,372.5 560.6,371.3 563.2,377.1 565.7,376.0 568.3,381.0 570.9,379.6 573.4,384.2 576.0,383.1 578.5,388.3 581.1,387.4 583.6,392.5 586.2,391.4 588.7,396.1 591.3,395.0 593.9,399.5 596.4,398.4 599.0,403.2 601.5,401.9 604.1,406.8 606.6,405.8 609.2,410.9 611.7,409.8 614.3,415.0 616.8,413.9 619.4,419.2 622.0,418.1 624.5,423.2 627.1,422.3 629.6,427.4 632.2,426.2 634.7,431.2 637.3,430.3 639.8,435.5 642.4,434.6 645.0,439.9 647.5,439.2 650.1,444.5 652.6,443.9 655.2,449.3 657.7,448.7 660.3,453.7 662.8,453.0 665.4,457.8 667.9,457.1 670.5,462.1 673.1,461.4 675.6,465.9 678.2,465.2 680.7,469.9 683.3,469.0 685.8,473.5 688.4,472.8 690.9,477.2 693.5,476.4 696.1,480.6 698.6,479.7 701.2,483.9 703.7,483.2 706.3,487.0 708.8,486.4 711.4,490.1 713.9,489.5 716.5,492.9 719.0,492.2 721.6,495.3 724.2,494.9 726.7,497.7 729.3,497.2 731.8,499.8 734.4,499.5 736.9,502.0 739.5,501.8 742.0,504.2 744.6,504.1 747.2,506.5 749.7,506.3 752.3,509.2 754.8,508.5 757.4,511.9 759.9,510.8 762.5,514.8 765.0,513.1 767.6,517.6 770.1,515.6 772.7,520.6 775.3,518.1 777.8,524.1 780.4,520.9 782.9,527.3 785.5,523.6 788.0,530.1 790.6,525.2 793.1,531.6 795.7,526.8 798.3,533.2 800.8,528.3 803.4,534.4 805.9,529.7 808.5,536.0 811.0,531.5 813.6,538.2 816.1,533.7 818.7,540.4 821.2,535.6 823.8,542.5 826.4,537.7 828.9,544.5 831.5,539.6 834.0,546.6 836.6,542.0 839.1,548.4 841.7,543.4 844.2,550.2 846.8,544.9 849.4,551.1 851.9,545.4 854.5,551.8 857.0,546.0 859.6,552.1 862.1,546.4 864.7,552.8 867.2,546.9 869.8,553.1 872.3,547.4 874.9,553.8 877.5,548.1 880.0,554.3 882.6,548.6 885.1,554.4 887.7,548.5 890.2,554.7 892.8,549.1 895.3,555.0 897.9,549.0 900.5,555.5 903.0,549.2 905.6,555.9 908.1,549.2 910.7,555.8 913.2,549.7 915.8,556.1 918.3,549.6 920.9,556.2 923.4,549.4 926.0,556.9 928.6,550.0 931.1,557.5 933.7,550.7 936.2,558.1 938.8,551.7 941.3,559.0 943.9,552.2 946.4,559.8 949.0,553.2 951.6,560.7 954.1,553.5 956.7,561.3 959.2,554.9 961.8,562.1 964.3,555.6 966.9,563.3 969.4,556.3 972.0,564.3 974.5,557.2 977.1,564.6 979.7,557.5 982.2,565.5 984.8,558.4 987.3,566.3 989.9,558.7 992.4,566.0 995.0,558.4 997.5,565.3 1000.1,557.8 1002.7,565.2 1005.2,557.0 1007.8,564.4 1010.3,557.0 1012.9,564.0 1015.4,556.3 1018.0,563.5 1020.5,556.2 1023.1,563.1 1025.6,555.6 1028.2,563.0"/>
<path stroke="#00B050" marker-start="url(#mg)" marker-mid="url(#mg)" marker-end="url(#mg)" d="M159.5,450.1 162.1,444.1 164.6,456.2 167.2,450.2 169.7,463.3 172.3,457.6 174.8,470.6 177.4,465.5 179.9,478.0 182.5,472.3 185.1,484.6 187.6,478.2 190.2,490.2 192.7,483.1 195.3,494.3 197.8,487.5 200.4,498.6 202.9,490.8 205.5,501.9 208.0,494.2 210.6,505.6 213.2,499.0 215.7,510.2 218.3,502.3 220.8,511.9 223.4,503.8 225.9,513.7 228.5,505.1 231.0,515.8 233.6,507.4 236.2,517.6 238.7,509.1 241.3,519.8 243.8,512.1 246.4,523.1 248.9,514.6 251.5,526.3 254.0,518.3 256.6,529.1 259.1,520.5 261.7,530.8 264.3,522.2 266.8,533.1 269.4,525.1 271.9,535.9 274.5,527.7 277.0,537.8 279.6,528.9 282.1,538.7 284.7,530.7 287.3,540.4 289.8,532.0 292.4,541.8 294.9,533.6 297.5,544.1 300.0,536.3 302.6,546.2 305.1,538.1 307.7,547.7 310.2,539.9 312.8,549.0 315.4,540.8 317.9,549.5 320.5,541.2 323.0,549.6 325.6,541.0 328.1,549.3 330.7,541.0 333.2,549.0 335.8,540.0 338.4,548.1 340.9,539.5 343.5,548.0 346.0,541.0 348.6,550.0 351.1,543.5 353.7,552.2 356.2,545.6 358.8,553.7 361.3,546.5 363.9,554.5 366.5,547.1 369.0,554.5 371.6,547.1 374.1,554.5 376.7,547.8 379.2,554.6 381.8,548.2 384.3,554.9 386.9,548.6 389.5,555.7 392.0,549.4 394.6,556.1 397.1,549.7 399.7,556.1 402.2,550.5 404.8,557.0 407.3,551.4 409.9,557.7 412.4,552.1 415.0,557.8 417.6,552.1 420.1,557.9 422.7,552.1 425.2,557.6 427.8,552.0 430.3,557.1 432.9,551.9 435.4,556.6 438.0,551.4 440.6,555.9 443.1,550.7 445.7,555.0 448.2,549.6 450.8,553.5 453.3,548.6 455.9,552.0 458.4,546.9 461.0,550.0 463.5,544.3 466.1,546.3 468.7,540.4 471.2,542.3 473.8,536.0 476.3,537.8 478.9,531.4 481.4,532.6 484.0,526.2 486.5,527.5 489.1,521.4 491.7,523.1 494.2,517.5 496.8,519.1 499.3,513.7 501.9,515.5 504.4,510.3 507.0,512.7 509.5,507.5 512.1,510.3 514.6,505.4 517.2,509.1 519.8,504.8 522.3,508.7 524.9,504.1 527.4,508.8 530.0,505.3 532.5,511.6 535.1,509.5 537.6,515.9 540.2,513.8 542.8,520.4 545.3,518.3 547.9,524.8 550.4,522.8 553.0,529.0 555.5,527.5 558.1,533.7 560.6,532.7 563.2,538.7 565.7,538.0 568.3,543.6 570.9,542.9 573.4,547.9 576.0,547.0 578.5,551.8 581.1,550.7 583.6,555.4 586.2,553.9 588.7,558.3 591.3,556.5 593.9,560.4 596.4,558.2 599.0,561.7 601.5,559.3 604.1,562.4 606.6,559.2 609.2,562.0 611.7,558.4 614.3,561.3 616.8,557.7 619.4,560.7 622.0,557.4 624.5,560.4 627.1,557.2 629.6,560.5 632.2,557.3 634.7,560.4 637.3,557.5 639.8,560.5 642.4,557.3 645.0,560.4 647.5,557.2 650.1,560.2 652.6,557.1 655.2,559.7 657.7,556.9 660.3,559.5 662.8,556.4 665.4,559.0 667.9,555.8 670.5,558.1 673.1,555.1 675.6,557.6 678.2,554.7 680.7,557.3 683.3,554.9 685.8,557.6 688.4,555.1 690.9,557.8 693.5,555.5 696.1,558.2 698.6,555.7 701.2,558.4 703.7,556.1 706.3,558.4 708.8,556.2 711.4,558.5 713.9,556.6 716.5,558.5 719.0,556.7 721.6,558.4 724.2,556.6 726.7,558.2 729.3,556.4 731.8,557.9 734.4,556.4 736.9,557.7 739.5,556.4 742.0,557.6 744.6,556.4 747.2,557.7 749.7,556.2 752.3,557.9 754.8,555.9 757.4,558.2 759.9,555.7 762.5,558.5 765.0,555.6 767.6,558.6 770.1,555.2 772.7,559.1 775.3,555.8 777.8,560.4 780.4,556.8 782.9,562.3 785.5,557.6 788.0,563.4 790.6,558.5 793.1,564.0 795.7,558.7 798.3,563.5 800.8,557.7 803.4,562.5 805.9,556.5 808.5,561.7 811.0,555.7 813.6,561.0 816.1,554.9 818.7,560.4 821.2,554.2 823.8,560.1 826.4,554.0 828.9,560.0 831.5,554.2 834.0,560.3 836.6,554.6 839.1,560.7 841.7,555.0 844.2,560.9 846.8,555.0 849.4,560.8 851.9,555.0 854.5,560.7 857.0,554.6 859.6,560.1 862.1,554.3 864.7,560.1 867.2,554.1 869.8,560.1 872.3,553.9 874.9,559.8 877.5,554.3 880.0,560.0 882.6,554.0 885.1,559.9 887.7,553.8 890.2,560.0 892.8,553.9 895.3,560.2 897.9,553.7 900.5,560.1 903.0,553.7 905.6,560.3 908.1,553.5 910.7,560.4 913.2,553.9 915.8,560.6 918.3,553.5 920.9,560.2 923.4,553.6 926.0,560.4 928.6,553.8 931.1,560.6 933.7,553.9 936.2,561.1 938.8,554.0 941.3,561.2 943.9,553.9 946.4,561.4 949.0,554.0 951.6,561.1 954.1,554.0 956.7,561.2 959.2,553.8 961.8,561.2 964.3,553.6 966.9,560.9 969.4,553.5 972.0,561.0 974.5,553.5 977.1,560.7 979.7,553.2 982.2,560.6 984.8,553.2 987.3,560.2 989.9,553.0 992.4,560.4 995.0,552.7 997.5,560.2 1000.1,552.9 1002.7,560.2 1005.2,552.4 1007.8,560.2 1010.3,552.3 1012.9,559.6 1015.4,552.1 1018.0,559.2 1020.5,550.4 1023.1,556.2 1025.6,546.6 1028.2,554.0"/>
<path stroke="#FF92FD" marker-start="url(#mh)" marker-mid="url(#mh)" marker-end="url(#mh)" d="M159.5,450.8 162.1,445.0 164.6,458.1 167.2,452.5 169.7,465.2 172.3,458.4 174.8,469.5 177.4,461.6 179.9,472.8 182.5,464.8 185.1,475.7 187.6,467.9 190.2,477.9 192.7,470.4 195.3,480.9 197.8,472.0 200.4,482.6 202.9,474.2 205.5,483.7 208.0,474.4 210.6,483.7 213.2,473.7 215.7,482.8 218.3,472.8 220.8,481.5 223.4,470.7 225.9,479.5 228.5,468.8 231.0,476.6 233.6,466.4 236.2,475.2 238.7,466.2 241.3,475.4 243.8,466.7 246.4,475.9 248.9,466.7 251.5,476.9 254.0,467.7 256.6,477.7 259.1,469.3 261.7,478.4 264.3,468.7 266.8,477.2 269.4,467.3 271.9,475.9 274.5,465.7 277.0,473.1 279.6,462.0 282.1,469.4 284.7,458.8 287.3,466.0 289.8,455.4 292.4,462.5 294.9,451.8 297.5,459.3 300.0,449.0 302.6,456.7 305.1,446.8 307.7,454.9 310.2,444.7 312.8,452.8 315.4,443.5 317.9,450.8 320.5,441.6 323.0,448.7 325.6,439.7 328.1,446.9 330.7,437.1 333.2,444.0 335.8,434.7 338.4,441.5 340.9,432.6 343.5,438.8 346.0,430.0 348.6,436.1 351.1,426.5 353.7,433.3 356.2,424.0 358.8,430.4 361.3,421.6 363.9,427.7 366.5,419.3 369.0,425.8 371.6,417.5 374.1,423.6 376.7,415.9 379.2,421.3 381.8,413.1 384.3,417.8 386.9,408.7 389.5,413.2 392.0,404.2 394.6,407.9 397.1,398.4 399.7,401.9 402.2,392.2 404.8,394.8 407.3,385.8 409.9,388.3 412.4,379.3 415.0,381.5 417.6,372.2 420.1,373.5 422.7,363.7 425.2,364.7 427.8,355.1 430.3,356.0 432.9,346.6 435.4,347.4 438.0,338.0 440.6,339.0 443.1,330.3 445.7,330.2 448.2,319.9 450.8,317.9 453.3,307.7 455.9,306.7 458.4,297.1 461.0,295.6 463.5,286.0 466.1,284.4 468.7,274.8 471.2,272.5 473.8,262.8 476.3,260.2 478.9,250.0 481.4,247.3 484.0,236.8 486.5,233.8 489.1,223.8 491.7,221.0 494.2,211.2 496.8,208.8 499.3,199.8 501.9,198.2 504.4,189.5 507.0,188.3 509.5,179.4 512.1,178.5 514.6,169.8 517.2,170.1 519.8,162.6 522.3,164.2 524.9,157.4 527.4,160.3 530.0,154.0 532.5,157.1 535.1,151.7 537.6,155.9 540.2,151.6 542.8,155.8 545.3,151.7 547.9,157.7 550.4,155.8 553.0,162.4 555.5,160.5 558.1,166.2 560.6,164.6 563.2,170.2 565.7,169.1 568.3,174.8 570.9,174.3 573.4,180.0 576.0,179.5 578.5,185.2 581.1,185.0 583.6,190.9 586.2,190.9 588.7,196.9 591.3,196.9 593.9,203.3 596.4,204.0 599.0,211.2 601.5,212.2 604.1,219.1 606.6,219.7 609.2,226.3 611.7,227.0 614.3,233.8 616.8,234.4 619.4,241.7 622.0,242.2 624.5,248.6 627.1,248.4 629.6,254.5 632.2,254.9 634.7,262.2 637.3,264.1 639.8,271.8 642.4,273.2 645.0,280.6 647.5,281.6 650.1,288.6 652.6,289.8 655.2,296.8 657.7,298.0 660.3,304.9 662.8,306.1 665.4,313.0 667.9,314.3 670.5,321.3 673.1,323.0 675.6,330.2 678.2,332.2 680.7,339.5 683.3,341.4 685.8,348.8 688.4,350.7 690.9,357.6 693.5,359.2 696.1,365.8 698.6,367.4 701.2,374.1 703.7,376.2 706.3,382.9 708.8,384.8 711.4,391.1 713.9,392.9 716.5,398.8 719.0,400.7 721.6,406.4 724.2,408.3 726.7,413.6 729.3,415.5 731.8,420.6 734.4,422.6 736.9,427.2 739.5,429.2 742.0,433.7 744.6,435.9 747.2,440.4 749.7,442.3 752.3,447.6 754.8,449.2 757.4,454.8 759.9,455.3 762.5,460.6 765.0,460.0 767.6,465.4 770.1,463.9 772.7,469.8 775.3,467.4 777.8,473.4 780.4,470.7 782.9,477.1 785.5,474.1 788.0,481.0 790.6,477.5 793.1,484.8 795.7,481.1 798.3,488.5 800.8,485.3 803.4,493.4 805.9,490.2 808.5,498.4 811.0,494.6 813.6,502.3 816.1,498.7 818.7,507.1 821.2,503.9 823.8,512.0 826.4,508.9 828.9,517.1 831.5,513.6 834.0,521.2 836.6,517.4 839.1,524.3 841.7,519.8 844.2,526.5 846.8,521.8 849.4,528.6 851.9,523.2 854.5,529.9 857.0,525.0 859.6,531.3 862.1,526.6 864.7,533.1 867.2,527.9 869.8,534.8 872.3,530.2 874.9,537.1 877.5,532.2 880.0,539.0 882.6,534.1 885.1,540.6 887.7,535.7 890.2,542.4 892.8,536.8 895.3,543.9 897.9,538.5 900.5,545.0 903.0,539.5 905.6,546.2 908.1,540.3 910.7,547.8 913.2,541.7 915.8,548.8 918.3,542.7 920.9,549.7 923.4,543.6 926.0,550.6 928.6,544.5 931.1,551.5 933.7,545.2 936.2,552.5 938.8,545.8 941.3,553.8 943.9,546.9 946.4,554.7 949.0,548.0 951.6,555.8 954.1,548.6 956.7,556.7 959.2,549.6 961.8,557.6 964.3,551.0 966.9,559.2 969.4,552.1 972.0,560.1 974.5,553.3 977.1,561.1 979.7,554.4 982.2,561.7 984.8,554.7 987.3,562.0 989.9,555.1 992.4,562.1 995.0,554.8 997.5,562.5 1000.1,555.4 1002.7,562.6 1005.2,555.4 1007.8,563.2 1010.3,555.5 1012.9,563.4 1015.4,555.8 1018.0,563.6 1020.5,556.7 1023.1,564.6 1025.6,557.6 1028.2,565.6"/>
</g>
<line x1="159.5" y1="12.399999999999999" x2="159.5" y2="650.3" stroke="#000" stroke-width="2.6"/>
<text class="b" x="584.6" y="119.7" font-size="50" textLength="26.3" lengthAdjust="spacingAndGlyphs">b</text>
<text class="b" x="505.5" y="263.2" font-size="50" textLength="27" lengthAdjust="spacingAndGlyphs">h</text>
<text class="b" x="594" y="373" font-size="49" textLength="20" lengthAdjust="spacingAndGlyphs">f</text>
<text class="b" x="494.8" y="476.5" font-size="49" textLength="78.5" lengthAdjust="spacingAndGlyphs">c, e</text>
<text class="b" x="479" y="607.5" font-size="49" textLength="131.5" lengthAdjust="spacingAndGlyphs">a, d, g</text>
<text class="b" x="2.6" y="38.8" font-size="55">A</text>
<text x="4.5" y="933" font-size="56" stroke="#000" stroke-width="0.7">B</text>
<text class="b" font-size="48.5" y="774"><tspan x="445.5" textLength="249.4" lengthAdjust="spacingAndGlyphs"><tspan font-size="51.5">W</tspan>avelength</tspan><tspan class="jp" x="670.6" y="773.3" font-size="47.5" font-weight="normal" stroke="#000" stroke-width="1">（</tspan><tspan x="720.3" y="774" font-size="49" textLength="65.4" lengthAdjust="spacingAndGlyphs">nm</tspan><tspan class="jp" x="787.7" y="773.3" font-size="47.5" font-weight="normal" stroke="#000" stroke-width="1">）</tspan></text>
<g transform="translate(48.3,480.1) rotate(-90)"><text class="b" font-size="48.5" y="0"><tspan x="-2.8" textLength="191.2" lengthAdjust="spacingAndGlyphs"><tspan font-size="54">I</tspan>ntensity</tspan><tspan class="jp" x="191.8" y="-1.2" font-size="48" font-weight="normal" stroke="#000" stroke-width="1.3">（</tspan><tspan x="238.4" y="0" textLength="73.9" lengthAdjust="spacingAndGlyphs">a.u.</tspan><tspan class="jp" x="311.2" y="-1.2" font-size="48" font-weight="normal" stroke="#000" stroke-width="1.3">）</tspan></text></g>
<!-- legend -->
<line x1="1092" y1="106" x2="1142.5" y2="106" stroke="#4F81BD" stroke-width="6.5" stroke-linecap="round"/>
<text x="1156" y="116.3" font-size="24.5" stroke="#000" stroke-width="0.6" textLength="243.8" lengthAdjust="spacingAndGlyphs">a) new plating solution</text>
<line x1="1092" y1="156" x2="1142.5" y2="156" stroke="#A5403F" stroke-width="6.5" stroke-linecap="round"/>
<text x="1156" y="166.3" font-size="24.5" stroke="#000" stroke-width="0.6" textLength="325.5" lengthAdjust="spacingAndGlyphs">b) electrolysis plating solution</text>
<line x1="1092" y1="206" x2="1142.5" y2="206" stroke="#9BBB59" stroke-width="6.5" stroke-linecap="round"/>
<text x="1156" y="216.3" font-size="24.5" stroke="#000" stroke-width="0.6" textLength="275.1" lengthAdjust="spacingAndGlyphs">c) copper solution + JGB</text>
<line x1="1092" y1="256" x2="1142.5" y2="256" stroke="#8064A2" stroke-width="6.5" stroke-linecap="round"/>
<text x="1156" y="266.3" font-size="24.5" stroke="#000" stroke-width="0.6" textLength="327.1" lengthAdjust="spacingAndGlyphs">d) copper solution + Cl + PEG</text>
<line x1="1092" y1="306" x2="1142.5" y2="306" stroke="#4BACC6" stroke-width="6.5" stroke-linecap="round"/>
<text x="1156" y="316.3" font-size="24.5" stroke="#000" stroke-width="0.6" textLength="331.0" lengthAdjust="spacingAndGlyphs">e) Copper solution + Cl + JGB</text>
<line x1="1092" y1="356" x2="1142.5" y2="356" stroke="#F79646" stroke-width="6.5" stroke-linecap="round"/>
<text x="1156" y="366.3" font-size="24.5" stroke="#000" stroke-width="0.6" textLength="348.8" lengthAdjust="spacingAndGlyphs">f) copper solution + PEG + JGB</text>
<line x1="1092" y1="406" x2="1142.5" y2="406" stroke="#00B050" stroke-width="6.5" stroke-linecap="round"/>
<text x="1156" y="416.3" font-size="24.5" stroke="#000" stroke-width="0.6" textLength="403.7" lengthAdjust="spacingAndGlyphs">g) copper solution + Cl + PEG + SPS</text>
<line x1="1092" y1="456" x2="1142.5" y2="456" stroke="#FF99FF" stroke-width="6.5" stroke-linecap="round"/>
<text x="1156" y="466.3" font-size="24.5" stroke="#000" stroke-width="0.6" textLength="409.5" lengthAdjust="spacingAndGlyphs">h) Copper solution + Cl + PEG + JGB</text>
<!-- Panel B -->
<line x1="147" y1="887" x2="147" y2="1485.3" stroke="#000" stroke-width="2.8"/>
<line x1="143" y1="1484.1" x2="1315" y2="1484.1" stroke="#000" stroke-width="2.6"/>
<line x1="143.5" y1="953.3" x2="189.5" y2="953.3" stroke="#000" stroke-width="1.1"/>
<rect x="241.2" y="953.3" width="67.8" height="532.7" fill="#4472C4"/>
<rect x="401.8" y="1004.1" width="67.8" height="477.5" fill="#4472C4"/>
<rect x="570" y="1278.8" width="67.8" height="205.5" fill="#4472C4"/>
<rect x="722.6" y="1340.9" width="67.8" height="140.9" fill="#4472C4"/>
<rect x="882.3" y="1362.1" width="67.8" height="123.5" fill="#4472C4"/>
<text x="122.5" y="983.4" font-size="46.5" text-anchor="end">1</text>
<text x="117.6" y="1502" font-size="46.5" text-anchor="end">0</text>
<rect x="1033.6" y="1333.8" width="281.4" height="115" fill="#fff" stroke="#FF0000" stroke-width="2.4"/>
<text class="b" x="1053.2" y="1381.5" font-size="39">No</text>
<text class="b" x="1053.2" y="1428.7" font-size="39">fluorescence</text>
<text class="b" x="265.2" y="1614" font-size="52" text-anchor="middle">b</text>
<text class="b" x="425.4" y="1614" font-size="52" text-anchor="middle">h</text>
<text class="b" x="587.8" y="1614" font-size="52" text-anchor="middle">f</text>
<text class="b" x="744.9" y="1614" font-size="52" text-anchor="middle">e</text>
<text class="b" x="905.2" y="1614" font-size="52" text-anchor="middle">c</text>
<text class="b" x="1068.9" y="1614" font-size="52" textLength="146.8" lengthAdjust="spacingAndGlyphs">a, d, g</text>
<g transform="translate(45.9,1389.3) rotate(-90)" stroke="#000" stroke-width="1.1"><text font-size="52" y="0"><tspan x="-5" textLength="204.5" lengthAdjust="spacingAndGlyphs"><tspan font-size="56.5">I</tspan>ntensity</tspan><tspan class="jp" x="202.7" y="-1" font-size="50.8">（</tspan><tspan x="253" y="0" textLength="80.6" lengthAdjust="spacingAndGlyphs">a.u.</tspan><tspan class="jp" x="330.4" y="-1" font-size="50.8">）</tspan></text></g>
</svg>
</body></html>
